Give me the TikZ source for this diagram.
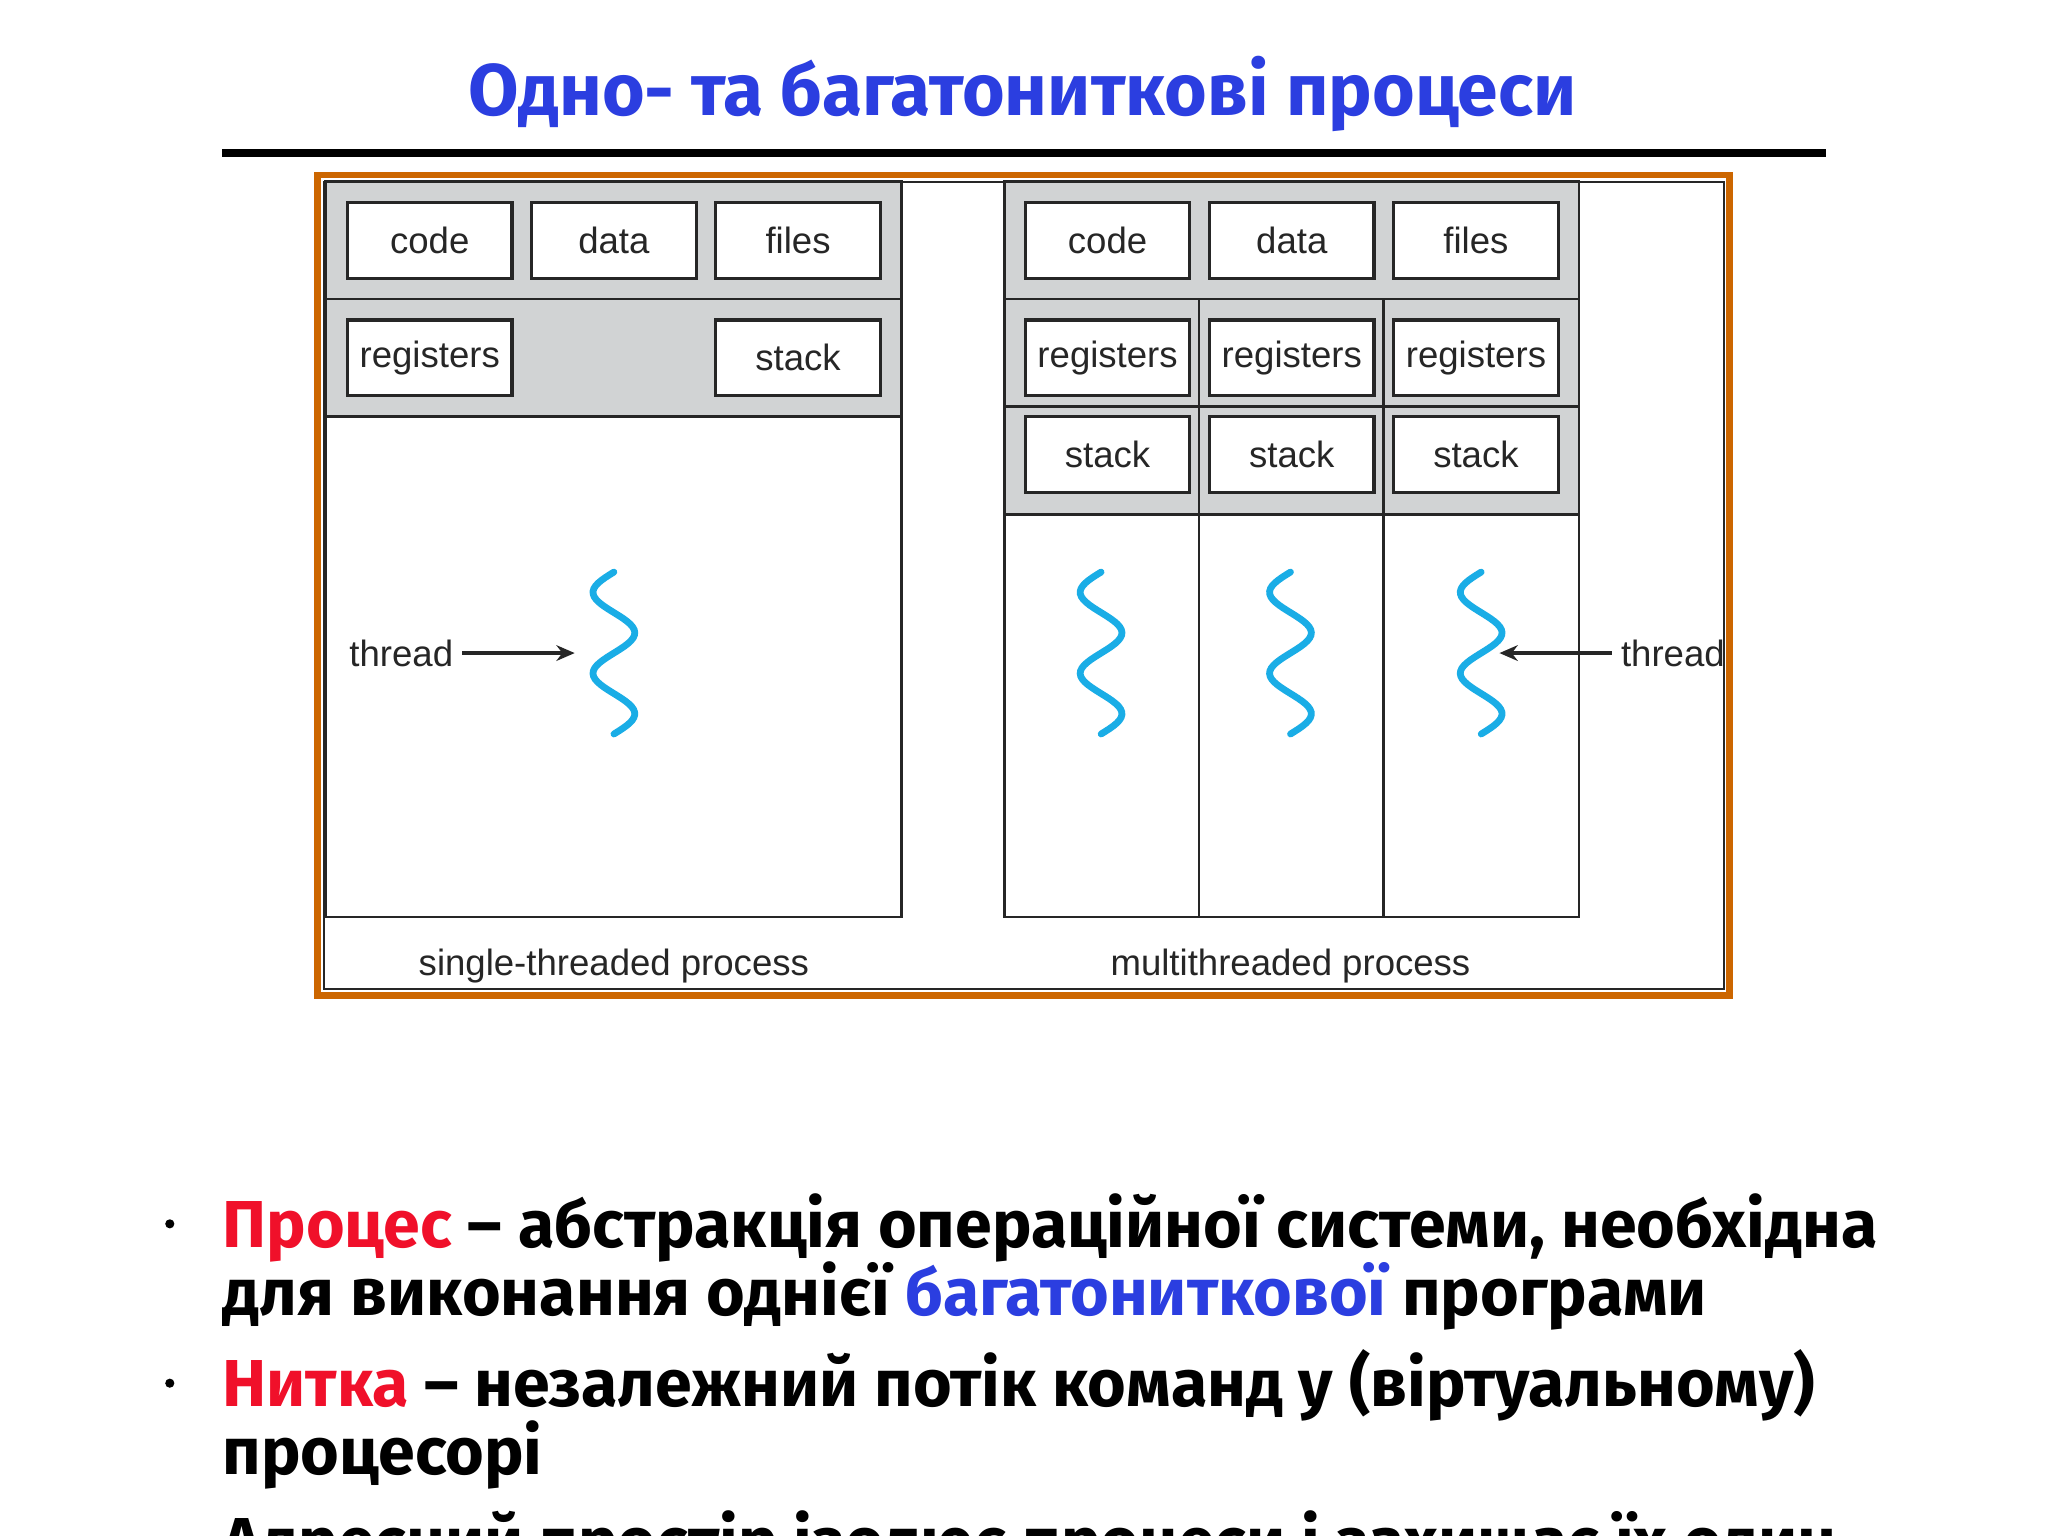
\documentclass[tikz,border=0pt]{standalone}
\usepackage{fontspec}
\setmainfont{Liberation Sans}
\newfontfamily\slidefont{Fira Sans}
\usetikzlibrary{arrows.meta}
\definecolor{ttlblue}{HTML}{2B3EE0}
\definecolor{frameor}{HTML}{CC6600}
\definecolor{boxgray}{HTML}{D1D3D4}
\definecolor{thcyan}{HTML}{1AADE6}
\definecolor{hired}{HTML}{F0102A}
\tikzset{
  lbl/.style={font=\fontsize{14}{17}\selectfont, text=black!85},
  cell/.style={draw=black!85, line width=1.2pt, fill=white, minimum width=63pt, minimum height=29pt, inner sep=0pt, lbl},
  wave/.style={thcyan, line width=2.6pt, line cap=round},
  arr/.style={-{Stealth[length=7pt,width=6pt]}, line width=1.2pt, black!85},
  bullettxt/.style={font=\slidefont\bfseries\fontsize{25.4}{30}\selectfont, anchor=base west, inner sep=0pt}
}
\begin{document}
\begin{tikzpicture}[x=0.5pt,y=-0.5pt]
\useasboundingbox[fill=white] (0,0) rectangle (1568,1176);
% title
\node[font=\slidefont\bfseries\fontsize{28}{32}\selectfont, text=ttlblue] (title) at (783,72) {Одно- та багатониткові процеси};
\draw[line width=3pt] (170,117) -- (1398,117);
% frames
\draw[frameor, line width=2.6pt] (243,134) rectangle (1324,762);
\draw[black!85, line width=0.8pt] (248,139) rectangle (1320,757);
% single-threaded
\fill[boxgray] (249,139) rectangle (690,319);
\draw[black!85, line width=1pt] (249,139) rectangle (690,702);
\draw[black!85, line width=1pt] (249,229) -- (690,229) (249,319) -- (690,319);
\node[cell] (c1) at (329,184) {code};
\node[cell] (d1) at (470,184) {data};
\node[cell] (f1) at (611,184) {files};
\node[cell] (r1) at (329,274) {registers};
\node[cell] (s1) at (611,274) {stack};
\draw[wave] plot[domain=0:2, samples=60] ({470-16*sin(360*\x+0)}, {438+62*\x});
\node[lbl, anchor=east] (t1) at (354,500) {thread};
\coordinate (w1) at (440,500);
\draw[arr] (t1.east) -- (w1);
\node[lbl] (sp) at (470,740) {single-threaded process};
% multithreaded
\fill[boxgray] (769,139) rectangle (1209,394);
\draw[black!85, line width=1pt] (769,139) rectangle (1209,702);
\draw[black!85, line width=1pt] (769,229) -- (1209,229) (769,311) -- (1209,311) (769,394) -- (1209,394)
  (918,229) -- (918,702) (1059,229) -- (1059,702);
\node[cell] (c2) at (848,184) {code};
\node[cell] (d2) at (989,184) {data};
\node[cell] (f2) at (1130,184) {files};
\foreach \n/\cx in {a/848,b/989,c/1130}{
  \node[cell] (r\n) at (\cx,274) {registers};
  \node[cell] (s\n) at (\cx,348) {stack};
}
\foreach \wx in {843,988,1134}{
  \draw[wave] plot[domain=0:2, samples=60] ({\wx-16*sin(360*\x)}, {438+62*\x});
}
\node[lbl, anchor=west] (t2) at (1234,500) {thread};
\coordinate (w2) at (1148,500);
\draw[arr] (t2.west) -- (w2);
\node[lbl] (mp) at (988,740) {multithreaded process};
% bullets
\foreach \by in {955,1077,1198}{ \fill (130,\by-18) circle (3.5); }
\node[bullettxt] (b1) at (170,955) {\textcolor{hired}{Процес} – абстракція операційної системи, необхідна};
\node[bullettxt] (b1b) at (170,1007) {для виконання однієї \textcolor{ttlblue}{багатониткової} програми};
\node[bullettxt] (b2) at (170,1077) {\textcolor{hired}{Нитка} – незалежний потік команд у (віртуальному)};
\node[bullettxt] (b2b) at (170,1129) {процесорі};
\node[bullettxt] (b3) at (170,1198) {Адресний простір ізолює процеси і захищає їх один};
\end{tikzpicture}
\end{document}
